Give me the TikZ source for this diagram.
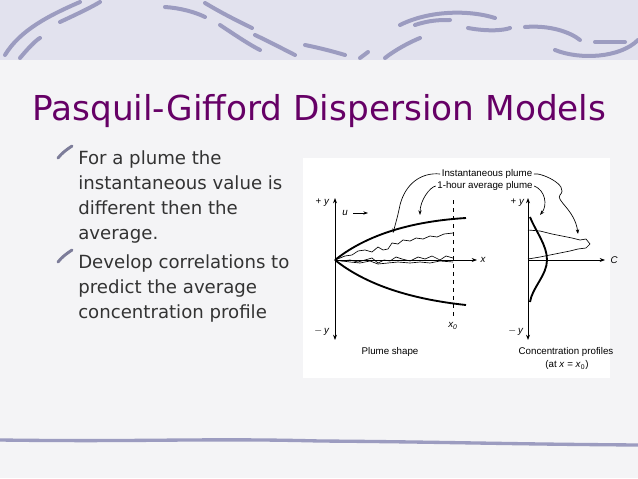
\documentclass[tikz,border=0pt]{standalone}
\usepackage{fontspec}
\setmainfont{DejaVu Sans}
\newfontfamily\figfont{Liberation Sans}
\usetikzlibrary{arrows.meta}
\definecolor{bg}{HTML}{F4F4F6}
\definecolor{band}{HTML}{E2E2EE}
\definecolor{swirl}{HTML}{9C9CC0}
\definecolor{ttl}{HTML}{660066}
\definecolor{txt}{HTML}{333333}
\tikzset{
  bul/.style={anchor=base west,text=txt,font=\fontsize{13.6}{17}\selectfont,inner sep=0},
  lbl/.style={font=\figfont\fontsize{7.3}{8}\selectfont,inner sep=1pt},
  ax/.style={line width=0.6pt,-{Stealth[length=4pt,width=3pt]}},
  bold/.style={line width=1.4pt},
  thin/.style={line width=0.5pt},
  sw/.style={swirl,line width=3pt,line cap=round},
  lead/.style={line width=0.5pt,-{Stealth[length=3.5pt,width=2.5pt]}}
}
\begin{document}
\begin{tikzpicture}[x=0.75pt,y=-0.75pt]
\useasboundingbox (0,0) rectangle (638,478);
\fill[bg] (0,0) rectangle (638,478);
\fill[band] (0,0) rectangle (638,60);
% swirls
\draw[sw] (5,55) .. controls (20,30) and (50,15) .. (80,2);
\draw[sw] (20,58) .. controls (35,40) and (40,38) .. (40,38);
\draw[sw] (60,22) .. controls (75,15) and (90,8) .. (100,2);
\draw[sw] (165,7) .. controls (180,8) and (195,12) .. (205,17);
\draw[sw] (205,3) .. controls (225,15) and (240,22) .. (252,28);
\draw[sw] (220,25) .. controls (235,35) and (250,45) .. (260,50);
\draw[sw] (255,35) .. controls (270,42) and (285,50) .. (295,55);
\draw[sw] (305,45) .. controls (320,48) and (335,52) .. (345,55);
\draw[sw] (360,58) -- (368,52);
\draw[sw] (385,58) .. controls (395,50) and (410,42) .. (420,38);
\draw[sw] (400,25) .. controls (430,10) and (470,10) .. (495,18);
\draw[sw] (415,25) .. controls (430,20) and (440,20) .. (450,20);
\draw[sw] (468,28) .. controls (490,32) and (505,30) .. (510,28);
\draw[sw] (525,27) .. controls (550,25) and (570,32) .. (580,40);
\draw[sw] (555,50) .. controls (580,60) and (620,58) .. (638,40);
\draw[sw] (595,42) -- (625,42);
\draw[swirl,line width=2.5pt] (0,440) .. controls (150,442) and (200,438) .. (320,441) .. controls (450,442) and (500,444) .. (638,445);
% title
\node[anchor=base west,text=ttl,inner sep=0] (title) at (32,120) {\resizebox{430.5pt}{!}{\fontsize{28}{32}\selectfont Pasquil-Gifford Dispersion Models}};
% bullets
\foreach \y/\n in {158/b1,262/b2}{
  \draw[swirl!80!black,line width=2.2pt,line cap=round] (58,\y) .. controls (62,\y-5) and (66,\y-8) .. (72,\y-12);
}
\node[bul] (l1) at (78,164) {For a plume the};
\node[bul] (l2) at (78,189) {instantaneous value is};
\node[bul] (l3) at (78,214) {different then the};
\node[bul] (l4) at (78,239) {average.};
\node[bul] (l5) at (78,268) {Develop correlations to};
\node[bul] (l6) at (78,293) {predict the average};
\node[bul] (l7) at (78,318) {concentration profile};
% figure
\fill[white] (303,158) rectangle (610,378);
\coordinate (o) at (335,260);
\coordinate (yt) at (335,198);
\coordinate (yb) at (335,340);
\coordinate (xe) at (477,260);
\draw[ax] (o) -- (yt);
\draw[ax] (o) -- (yb);
\draw[ax] (o) -- (xe);
\node[lbl,anchor=east] (py) at (331,203) {+ \textit{y}};
\node[lbl,anchor=east] (my) at (331,332) {$-$\,\textit{y}};
\node[lbl,anchor=west] (xl) at (479,260) {\itshape x};
\node[lbl] (u) at (345,213) {\itshape u};
\coordinate (ua) at (353,213);
\coordinate (ub) at (368,213);
\draw[lead] (ua) -- (ub);
\coordinate (da) at (453,200);
\coordinate (db) at (453,318);
\draw[dashed,thin] (da) -- (db);
\node[lbl] (x0) at (453,326) {\itshape x\textsubscript{0}};
\draw[bold] (o) .. controls (360,240) and (400,222) .. (466,218);
\draw[bold] (o) .. controls (360,280) and (400,298) .. (466,305);
\draw[thin] (o) -- (345,256) -- (352,255) -- (358,251) -- (365,250) -- (372,252) -- (378,247) -- (383,250) -- (388,249) -- (392,243) -- (398,244) -- (403,240) -- (410,241) -- (416,238) -- (423,239) -- (430,236) -- (437,237) -- (444,234) -- (453,233);
\draw[thin] (o) -- (342,261) -- (350,260) -- (358,262) -- (365,260) -- (372,258) -- (378,263) -- (384,260) -- (390,261) -- (396,257) -- (402,259) -- (410,261) -- (418,257) -- (425,259) -- (432,256) -- (440,260) -- (446,256) -- (453,258);
\draw[thin] (o) -- (350,262) -- (360,263) -- (370,261) -- (378,264) -- (388,263) -- (398,262) -- (410,263) -- (420,262) -- (430,263) -- (440,261) -- (453,262);
\node[lbl] (pshape) at (390,352) {Plume shape};
% right
\coordinate (ro) at (528,260);
\coordinate (rt) at (528,198);
\coordinate (rb) at (528,340);
\coordinate (re) at (605,260);
\draw[ax] (ro) -- (rt);
\draw[ax] (ro) -- (rb);
\draw[ax] (ro) -- (re);
\node[lbl,anchor=east] (rpy) at (526,203) {+ \textit{y}};
\node[lbl,anchor=east] (rmy) at (525,332) {$-$\,\textit{y}};
\node[lbl,anchor=west] (cl) at (609,260) {\itshape C};
\draw[bold] (530,217) .. controls (536,232) and (547,245) .. (547,260) .. controls (547,275) and (532,288) .. (530,302);
\draw[thin] (528,230) -- (540,231) -- (552,234) -- (562,236) -- (572,238) -- (580,240) -- (586,239) -- (590,244) -- (586,248) -- (578,249) -- (570,251) -- (560,253) -- (550,255) -- (540,257) -- (528,259);
\node[lbl] (cp) at (566,352) {Concentration profiles};
\node[lbl] (cp2) at (567,365) {(at \textit{x} = \textit{x}\textsubscript{0})};
% labels and leaders
\node[lbl] (ip) at (487,174) {Instantaneous plume};
\node[lbl] (ap) at (485,186) {1-hour average plume};
\draw[lead] (ip.west) .. controls (420,172) and (405,185) .. (400,205) .. controls (398,215) and (396,222) .. (393,233);
\draw[lead] (ap.west) .. controls (430,187) and (420,200) .. (420,215);
\draw[lead] (ip.east) .. controls (540,172) and (570,185) .. (560,195) .. controls (555,200) and (575,210) .. (578,234);
\draw[lead] (ap.east) .. controls (545,190) and (548,205) .. (540,215);
\end{tikzpicture}
\end{document}
